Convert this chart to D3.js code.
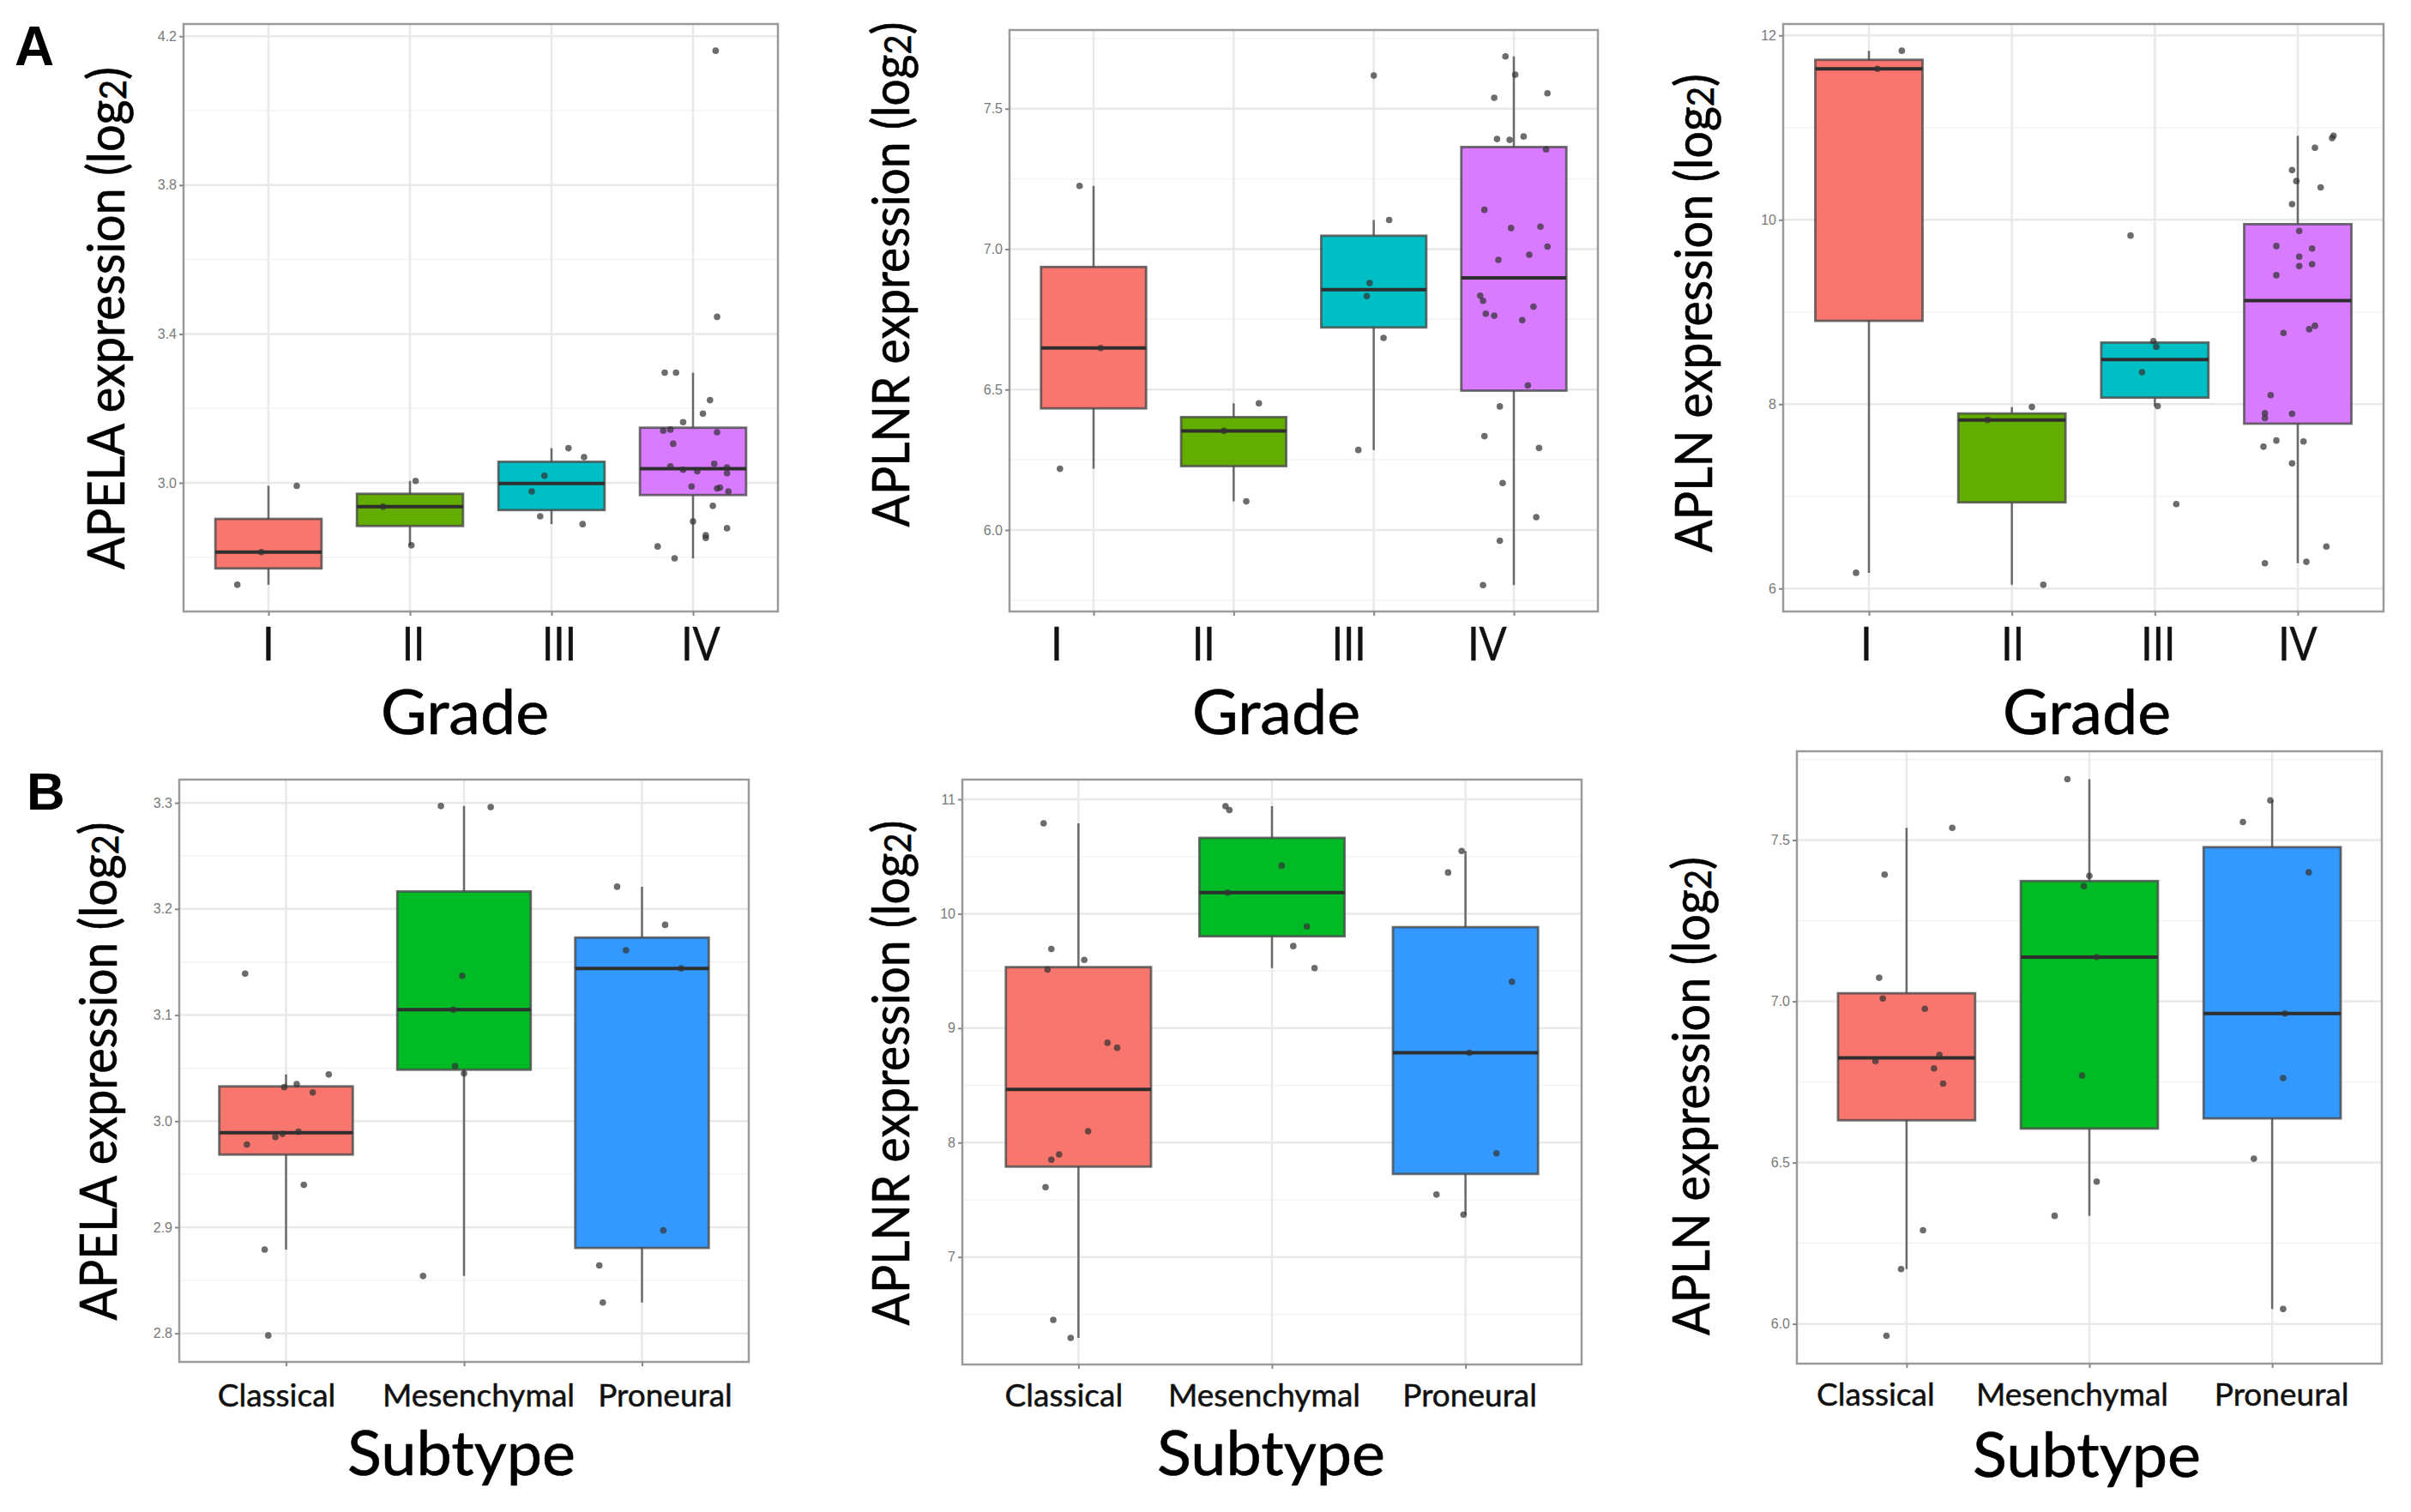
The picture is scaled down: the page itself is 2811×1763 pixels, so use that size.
<!DOCTYPE html>
<html>
<head>
<meta charset="utf-8">
<script src="https://cdn.jsdelivr.net/npm/d3@7"></script>
<style>
  body { margin: 0; background: #fff; }
  svg { display: block; }
</style>
</head>
<body>
<div id="chart"></div>
<script>
// categories
var grades = ['I', 'II', 'III', 'IV']
var subtypes = ['Classical', 'Mesenchymal', 'Proneural']

// tick values of the y axes
var apelaGradeTicks = [3.0, 3.4, 3.8, 4.2]
var aplnrGradeTicks = [6.0, 6.5, 7.0, 7.5]
var aplnGradeTicks = [6, 8, 10, 12]
var apelaSubtypeTicks = [2.8, 2.9, 3.0, 3.1, 3.2, 3.3]
var aplnrSubtypeTicks = [7, 8, 9, 10, 11]
var aplnSubtypeTicks = [6.0, 6.5, 7.0, 7.5]

// expression values (log2) read per group, with the jitter offset of each dot (in category widths)
var apelaGrade = [
    [2.992, 2.814, 2.726],
    [3.005, 2.936, 2.832],
    [3.093, 3.069, 3.019, 2.977, 2.910, 2.889],
    [4.161, 3.446, 3.296, 3.296, 3.222, 3.186, 3.163, 3.140, 3.143, 3.136, 3.105, 3.044, 3.035, 3.031,
     3.051, 3.041, 3.026, 2.990, 2.985, 2.987, 2.977, 2.938, 2.896, 2.878, 2.859, 2.852, 2.829, 2.797]
]
var apelaGradeJitter = [
    [0.20, -0.05, -0.22],
    [0.04, -0.19, 0.01],
    [0.12, 0.23, -0.05, -0.14, -0.08, 0.22],
    [0.16, 0.17, -0.20, -0.12, 0.12, 0.07, -0.07, -0.21, -0.16, 0.17, -0.14, -0.16, -0.07, 0.03,
     0.15, 0.24, 0.24, -0.01, 0.17, 0.19, 0.25, 0.14, 0.00, 0.24, 0.09, 0.09, -0.25, -0.13]
]

var aplnrGrade = [
    [7.225, 6.648, 6.218],
    [6.451, 6.353, 6.102],
    [7.618, 7.104, 6.879, 6.833, 6.684, 6.285],
    [7.686, 7.621, 7.555, 7.539, 7.392, 7.389, 7.401, 7.355, 7.140, 7.075, 7.080, 7.009, 6.980, 6.962,
     6.834, 6.816, 6.770, 6.763, 6.747, 6.795, 6.515, 6.440, 6.334, 6.292, 6.167, 6.046, 5.962, 5.804]
]
var aplnrGradeJitter = [
    [-0.10, 0.05, -0.24],
    [0.18, -0.07, 0.09],
    [0.00, 0.11, -0.03, -0.05, 0.07, -0.11],
    [-0.06, 0.01, 0.24, -0.14, -0.12, -0.03, 0.07, 0.23, -0.21, -0.02, 0.19, 0.24, 0.11, -0.11,
     -0.24, -0.22, -0.20, -0.14, 0.06, 0.14, 0.10, -0.10, -0.21, 0.18, -0.08, 0.16, -0.10, -0.22]
]

var aplnGrade = [
    [11.834, 11.637, 6.171],
    [7.969, 7.829, 6.041],
    [9.829, 8.684, 8.622, 8.347, 7.979, 6.917],
    [10.912, 10.886, 10.782, 10.539, 10.420, 10.352, 10.170, 9.880, 9.715, 9.689, 9.601, 9.497, 9.518, 9.399,
     8.772, 8.813, 8.850, 8.098, 7.902, 7.850, 7.896, 7.539, 7.606, 7.596, 7.358, 6.456, 6.275, 6.290]
]
var aplnGradeJitter = [
    [0.23, 0.06, -0.09],
    [0.14, -0.17, 0.22],
    [-0.17, -0.01, 0.01, -0.09, 0.02, 0.15],
    [0.25, 0.24, 0.12, -0.04, -0.01, 0.16, -0.04, 0.01, -0.15, 0.10, 0.01, 0.01, 0.10, -0.15,
     -0.10, 0.08, 0.12, -0.19, -0.23, -0.23, -0.04, -0.24, -0.15, 0.04, -0.04, 0.20, -0.23, 0.06]
]

var apelaSubtype = [
    [3.139, 3.044, 3.035, 3.032, 3.027, 2.988, 2.985, 2.990, 2.978, 2.940, 2.879, 2.798],
    [3.297, 3.296, 3.137, 3.105, 3.052, 3.045, 2.854],
    [3.221, 3.185, 3.161, 3.144, 2.897, 2.864, 2.829]
]
var apelaSubtypeJitter = [
    [-0.23, 0.24, 0.06, -0.01, 0.15, -0.02, -0.06, 0.07, -0.22, 0.10, -0.12, -0.10],
    [-0.13, 0.15, -0.01, -0.06, -0.05, 0.00, -0.23],
    [-0.14, 0.13, -0.09, 0.22, 0.12, -0.24, -0.22]
]

var aplnrSubtype = [
    [10.79, 9.692, 9.512, 9.597, 8.872, 8.829, 8.099, 7.897, 7.850, 7.610, 6.450, 6.293],
    [10.94, 10.906, 10.420, 10.184, 9.889, 9.717, 9.525],
    [10.548, 10.360, 9.405, 8.785, 7.906, 7.546, 7.370]
]
var aplnrSubtypeJitter = [
    [-0.18, -0.14, -0.16, 0.03, 0.15, 0.20, 0.05, -0.10, -0.14, -0.17, -0.13, -0.04],
    [-0.24, -0.22, 0.05, -0.23, 0.18, 0.11, 0.22],
    [-0.02, -0.09, 0.24, 0.02, 0.16, -0.15, -0.01]
]

var aplnSubtype = [
    [7.538, 7.393, 7.073, 7.009, 6.977, 6.834, 6.815, 6.792, 6.745, 6.290, 6.170, 5.963],
    [7.689, 7.389, 7.357, 7.137, 6.770, 6.441, 6.335],
    [7.623, 7.556, 7.400, 6.962, 6.762, 6.512, 6.046]
]
var aplnSubtypeJitter = [
    [0.25, -0.12, -0.15, -0.13, 0.10, 0.18, -0.17, 0.15, 0.20, 0.09, -0.03, -0.11],
    [-0.12, 0.00, -0.03, 0.04, -0.04, 0.04, -0.19],
    [-0.01, -0.16, 0.20, 0.07, 0.06, -0.10, 0.06]
]

var gradeColors = ['#F8766D', '#62AD00', '#00BFC4', '#D97BFF']
var subtypeColors = ['#F8766D', '#00BA26', '#3399FF']

var fmt1 = d3.format('.1f'), fmt0 = d3.format('d')

var panels = [
    {gene: 'APELA', cats: grades, colors: gradeColors, values: apelaGrade, jitter: apelaGradeJitter,
     ticks: apelaGradeTicks, fmt: fmt1, box: [214, 28, 907, 713], yt: [145, 371, 586],
     xTitle: 'Grade', xt: [542, 856], labY: 770, labDx: [0, 4, 9, 9]},
    {gene: 'APLNR', cats: grades, colors: gradeColors, values: aplnrGrade, jitter: aplnrGradeJitter,
     ticks: aplnrGradeTicks, fmt: fmt1, box: [1177, 35, 1863, 713], yt: [1060, 320, 589],
     xTitle: 'Grade', xt: [1488, 856], labY: 770, labDx: [-43, -35, -29, -31]},
    {gene: 'APLN', cats: grades, colors: gradeColors, values: aplnGrade, jitter: aplnGradeJitter,
     ticks: aplnGradeTicks, fmt: fmt0, box: [2079, 28, 2779, 713], yt: [1996, 365, 558],
     xTitle: 'Grade', xt: [2433, 856], labY: 770, labDx: [-3, 1, 4, 0]},
    {gene: 'APELA', cats: subtypes, colors: subtypeColors, values: apelaSubtype, jitter: apelaSubtypeJitter,
     ticks: apelaSubtypeTicks, fmt: fmt1, box: [209, 909, 873, 1588], yt: [136, 1249, 581],
     xTitle: 'Subtype', xt: [538, 1720], labY: 1640, labDx: [-11, 17, 27]},
    {gene: 'APLNR', cats: subtypes, colors: subtypeColors, values: aplnrSubtype, jitter: aplnrSubtypeJitter,
     ticks: aplnrSubtypeTicks, fmt: fmt0, box: [1122, 909, 1844, 1591], yt: [1060, 1251, 589],
     xTitle: 'Subtype', xt: [1482, 1720], labY: 1640, labDx: [-17, -9, 5]},
    {gene: 'APLN', cats: subtypes, colors: subtypeColors, values: aplnSubtype, jitter: aplnSubtypeJitter,
     ticks: aplnSubtypeTicks, fmt: fmt1, box: [2095, 876, 2777, 1590], yt: [1993, 1278, 558],
     xTitle: 'Subtype', xt: [2433, 1722], labY: 1639, labDx: [-36, -20, 11]}
]

var width = 2811, height = 1763

var svg = d3.select('#chart')
    .append('svg')
    .attr('width', width)
    .attr('height', height)

svg.append('rect').attr('width', width).attr('height', height).attr('fill', '#fff')

panels.forEach(drawPanel)

svg.append('text').text('A')
    .attr('x', 17).attr('y', 76)
    .attr('font-family', 'Liberation Sans, Arial, sans-serif')
    .attr('font-weight', 'bold').attr('font-size', 64)
svg.append('text').text('B')
    .attr('x', 31).attr('y', 944)
    .attr('font-family', 'Liberation Sans, Arial, sans-serif')
    .attr('font-weight', 'bold').attr('font-size', 62)

function boxStats(v) {
    var s = v.slice().sort(d3.ascending)
    var q1 = d3.quantileSorted(s, 0.25), med = d3.quantileSorted(s, 0.5), q3 = d3.quantileSorted(s, 0.75)
    var iqr = q3 - q1
    return {
        q1: q1, med: med, q3: q3,
        lo: d3.min(s.filter(function(d) { return d >= q1 - 1.5 * iqr })),
        hi: d3.max(s.filter(function(d) { return d <= q3 + 1.5 * iqr }))
    }
}

// squeeze a Lato string to a narrower, Calibri-like width
function squeeze(text, target) {
    text.attr('textLength', target).attr('lengthAdjust', 'spacingAndGlyphs')
}

function drawPanel(p) {
    var left = p.box[0], top = p.box[1], right = p.box[2], bottom = p.box[3]
    var all = d3.merge(p.values)
    var lo = d3.min(all), hi = d3.max(all), pad = (hi - lo) * 0.05

    var y = d3.scaleLinear().domain([lo - pad, hi + pad]).range([bottom, top])
    var x = d3.scalePoint().domain(p.cats).range([left, right]).padding(0.6)
    var step = x.step()

    var g = svg.append('g')

    // grid lines
    var tstep = p.ticks[1] - p.ticks[0]
    var minors = d3.range(-6, p.ticks.length + 6).map(function(i) { return p.ticks[0] + (i - 0.5) * tstep })
        .filter(function(v) { return v > y.domain()[0] && v < y.domain()[1] })

    g.selectAll('.minor').data(minors).enter().append('line')
        .attr('x1', left).attr('x2', right)
        .attr('y1', function(d) { return y(d) }).attr('y2', function(d) { return y(d) })
        .attr('stroke', '#f3f3f3').attr('stroke-width', 1.5)

    g.selectAll('.major').data(p.ticks).enter().append('line')
        .attr('x1', left).attr('x2', right)
        .attr('y1', function(d) { return y(d) }).attr('y2', function(d) { return y(d) })
        .attr('stroke', '#e9e9e9').attr('stroke-width', 2.5)

    g.selectAll('.vmajor').data(p.cats).enter().append('line')
        .attr('x1', function(d) { return x(d) }).attr('x2', function(d) { return x(d) })
        .attr('y1', top).attr('y2', bottom)
        .attr('stroke', '#e9e9e9').attr('stroke-width', 2.5)

    var stats = p.values.map(boxStats)
    var groups = g.selectAll('.grp').data(p.cats).enter().append('g')

    // whiskers
    groups.append('line')
        .attr('x1', function(d) { return x(d) }).attr('x2', function(d) { return x(d) })
        .attr('y1', function(d, i) { return y(stats[i].lo) })
        .attr('y2', function(d, i) { return y(stats[i].hi) })
        .attr('stroke', '#6a6a6a').attr('stroke-width', 2.5)

    // boxes
    groups.append('rect')
        .attr('x', function(d) { return x(d) - step * 0.375 })
        .attr('width', step * 0.75)
        .attr('y', function(d, i) { return y(stats[i].q3) })
        .attr('height', function(d, i) { return y(stats[i].q1) - y(stats[i].q3) })
        .attr('fill', function(d, i) { return p.colors[i] })
        .attr('stroke', '#4a4a4a').attr('stroke-opacity', 0.8).attr('stroke-width', 2.8)

    // medians
    groups.append('line')
        .attr('x1', function(d) { return x(d) - step * 0.375 })
        .attr('x2', function(d) { return x(d) + step * 0.375 })
        .attr('y1', function(d, i) { return y(stats[i].med) })
        .attr('y2', function(d, i) { return y(stats[i].med) })
        .attr('stroke', '#2e2e2e').attr('stroke-width', 4)

    // jittered samples
    groups.selectAll('circle')
        .data(function(d, i) { return d3.zip(p.values[i], p.jitter[i]).map(function(v) { return {c: d, v: v[0], j: v[1]} }) })
        .enter().append('circle')
        .attr('cx', function(d) { return x(d.c) + d.j * step })
        .attr('cy', function(d) { return y(d.v) })
        .attr('r', 3.8)
        .attr('fill', '#333').attr('fill-opacity', 0.72)

    // panel border
    g.append('rect')
        .attr('x', left).attr('y', top)
        .attr('width', right - left).attr('height', bottom - top)
        .attr('fill', 'none').attr('stroke', '#9a9a9a').attr('stroke-width', 2.5)

    // y axis
    var ya = g.append('g')
        .attr('transform', 'translate(' + left + ',0)')
        .call(d3.axisLeft(y).tickValues(p.ticks).tickFormat(p.fmt).tickSize(5).tickPadding(3))
    ya.select('.domain').remove()
    ya.selectAll('.tick line').attr('stroke', '#888').attr('stroke-width', 2)
    ya.selectAll('.tick text')
        .attr('font-family', 'Liberation Sans, Arial, sans-serif')
        .attr('font-size', 16).attr('fill', '#7a7a7a')

    // x axis ticks
    var xa = g.append('g')
        .attr('transform', 'translate(0,' + bottom + ')')
        .call(d3.axisBottom(x).tickSize(5).tickFormat(''))
    xa.select('.domain').remove()
    xa.selectAll('.tick line').attr('stroke', '#888').attr('stroke-width', 2)

    // category labels
    var isGrade = p.cats === grades
    var labs = g.selectAll('.lab').data(p.cats).enter().append('text')
        .text(function(d) { return d })
        .attr('x', function(d, i) { return x(d) + p.labDx[i] })
        .attr('y', p.labY)
        .attr('text-anchor', 'middle')
        .attr('font-family', 'Lato, sans-serif')
        .attr('font-size', isGrade ? 54 : 37)
        .attr('fill', '#111').attr('stroke', '#111').attr('stroke-width', 0.5)
    if (isGrade) {
        labs.each(function() {
            squeeze(d3.select(this), this.getComputedTextLength() * 0.88)
        })
    }

    // axis titles
    var xt = g.append('text').text(p.xTitle)
        .attr('x', p.xt[0]).attr('y', p.xt[1])
        .attr('text-anchor', 'middle')
        .attr('font-family', 'Lato, sans-serif')
        .attr('font-size', 72).attr('fill', '#000')
        .attr('stroke', '#000').attr('stroke-width', 0.6)
    squeeze(xt, isGrade ? 196 : 266)

    var yt = g.append('text')
        .attr('transform', 'translate(' + p.yt[0] + ',' + p.yt[1] + ') rotate(-90)')
        .attr('text-anchor', 'middle')
        .attr('font-family', 'Lato, sans-serif')
        .attr('font-size', 60).attr('fill', '#000')
        .attr('stroke', '#000').attr('stroke-width', 0.6)
    yt.append('tspan').text(p.gene + ' expression (log')
    yt.append('tspan').text('2').attr('font-size', '0.72em').attr('dy', 2)
    yt.append('tspan').text(')').attr('dy', -2)
    squeeze(yt, p.yt[2])
}
</script>
</body>
</html>
